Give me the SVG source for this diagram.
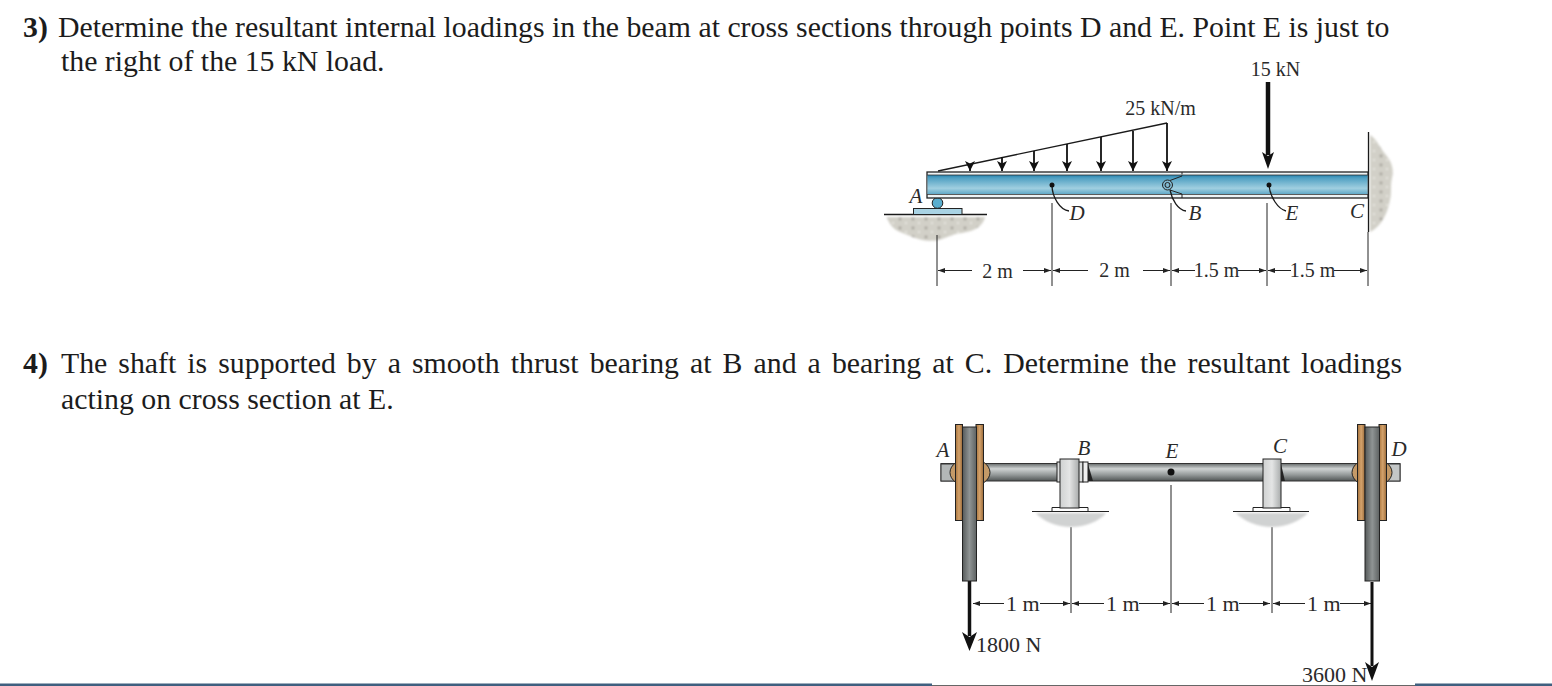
<svg xmlns="http://www.w3.org/2000/svg" width="1552" height="686" viewBox="0 0 1552 686">
<style>
.q{font:29.8px "Liberation Serif",serif;fill:#1c1c1c}
.l{font:20px "Liberation Serif",serif;fill:#2a2a2a}
.m{font:22px "Liberation Serif",serif;fill:#2a2a2a}
.i{font:italic 21px "Liberation Serif",serif;fill:#2a2a2a}
.k{stroke:#1a1a1a;fill:none;stroke-width:1.3}
.t{stroke:#222;fill:none;stroke-width:1}
.d{stroke:#222;fill:none;stroke-width:1;marker-start:url(#t)}
.a{stroke:#111;stroke-width:1.8;fill:none;marker-end:url(#ah)}
.g{filter:url(#soft)}
</style>
<defs>
<marker id="ah" markerUnits="userSpaceOnUse" markerWidth="10" markerHeight="10" refX="10" refY="5" orient="auto"><path d="M0 0L2.500 5 0 10 10 5Z" fill="#111"/></marker>
<marker id="t" markerUnits="userSpaceOnUse" markerWidth="7" markerHeight="5" refX="0" refY="2.500" orient="auto"><path d="M0 2.500L7 0V5Z" fill="#222"/></marker>
<filter id="soft"><feGaussianBlur stdDeviation="1"/></filter>
<pattern id="sp" width="13" height="9" patternUnits="userSpaceOnUse"><rect width="13" height="9" fill="#d2d0c8"/><circle cx="3" cy="3" r="1.400" fill="#a09e96"/><circle cx="9" cy="7" r="1" fill="#f0efe9"/></pattern>
<linearGradient id="web" x1="0" y1="0" x2="0" y2="1"><stop offset="0" stop-color="#2583ae"/><stop offset=".15" stop-color="#4f9fc2"/><stop offset=".7" stop-color="#a0cfe0"/><stop offset="1" stop-color="#62aac8"/></linearGradient>
<linearGradient id="shaft" x1="0" y1="0" x2="0" y2="1"><stop offset="0" stop-color="#666b6b"/><stop offset=".3" stop-color="#cfd3d3"/><stop offset=".65" stop-color="#949999"/><stop offset="1" stop-color="#4f5454"/></linearGradient>
<linearGradient id="belt" x1="0" y1="0" x2="1" y2="0"><stop offset="0" stop-color="#565a5a"/><stop offset=".5" stop-color="#8f9494"/><stop offset="1" stop-color="#5d6161"/></linearGradient>
<linearGradient id="cu" x1="0" y1="0" x2="1" y2="0"><stop offset="0" stop-color="#a8743c"/><stop offset=".5" stop-color="#d3a26c"/><stop offset="1" stop-color="#9a6a38"/></linearGradient>
<linearGradient id="bk" x1="0" y1="0" x2="1" y2="0"><stop offset="0" stop-color="#cfd1d1"/><stop offset=".5" stop-color="#e4e5e5"/><stop offset="1" stop-color="#a9acac"/></linearGradient>
</defs>
<g id="text-3">
<text class="q" y="37"><tspan x="23" font-weight="bold">3)</tspan><tspan x="58">Determine the resultant internal loadings in the beam at cross sections through points D and E. Point E is just to</tspan></text>
<text class="q" x="61" y="71">the right of the 15 kN load.</text>
</g>
<g id="text-4">
<text class="q" y="373"><tspan x="23" font-weight="bold">4)</tspan><tspan x="61" word-spacing="3.600">The shaft is supported by a smooth thrust bearing at B and a bearing at C. Determine the resultant loadings</tspan></text>
<text class="q" x="61" y="409">acting on cross section at E.</text>
</g>
<g id="ground-a"><path class="g" d="M887 217H985C983 226 975 231 962 233C950 234 945 240 932 241C920 241 910 236 900 232C893 229 889 224 887 217Z" fill="url(#sp)"/><path d="M884 214.500H987" class="k"/></g>
<g id="support-a"><rect x="913.500" y="208.500" width="48.500" height="6" fill="#a9d3e4" stroke="#222"/><circle cx="937.500" cy="203" r="5.300" fill="#59aecf" stroke="#222"/></g>
<g id="wall-c"><path class="g" d="M1370 135C1376 138 1380 148 1386 155C1392 162 1394 170 1392 178C1390 186 1392 192 1390 200C1388 212 1382 226 1370 232Z" fill="url(#sp)"/><path d="M1368.500 132V232" class="k"/></g>
<g id="beam">
<rect x="927" y="172" width="441" height="26" fill="#eef4f6" stroke="#222" stroke-width="1.300"/>
<rect x="927.500" y="175" width="440" height="19" fill="url(#web)"/>
<path d="M927 194.500H1368M927 175H1181M1183 175H1368" stroke="#333" stroke-width=".8"/>
<path d="M1182 172V176L1170 180.500M1170 190L1182 194V198" fill="none" stroke="#222"/>
<circle cx="1167.500" cy="185" r="5" fill="#7fb7cf" stroke="#222"/><circle cx="1167.500" cy="185" r="2.500" fill="none" stroke="#222"/>
</g>
<g id="connectors">
<path d="M938 171L1167 123" class="k"/>
<path class="a" d="M970 165V171"/><path class="a" d="M1002 157V171"/><path class="a" d="M1034 151V171"/><path class="a" d="M1067 144V171"/><path class="a" d="M1101 137V171"/><path class="a" d="M1133 131V171"/><path class="a" d="M1167 123V171"/>
<path d="M1268 82V155" stroke="#111" stroke-width="4.500"/><path d="M1262 152L1268 156 1274 152 1268 169Z" fill="#111"/>
<path d="M1052 185C1052 197 1060 210 1069 211M1170 190C1172 200 1178 210 1186 211M1269 185C1270 197 1278 209 1286 211" class="k"/>
<path d="M937 235V286M1052 203V286M1171 203V286M1267 203V286M1368 232V286" class="t"/>
<path class="d" d="M938 270.500H972"/><path class="d" d="M1051 270.500H1023"/><path class="d" d="M1053 270.500H1088"/><path class="d" d="M1170 270.500H1143"/><path class="d" d="M1172 270.500H1195"/><path class="d" d="M1266 270.500H1238"/><path class="d" d="M1268 270.500H1291"/><path class="d" d="M1367 270.500H1334"/>
<path d="M1071 527V613M1171 485V613M1272 527V613" class="t"/>
<path class="d" d="M973 603.500H1004"/><path class="d" d="M1070 603.500H1040"/><path class="d" d="M1072 603.500H1104"/><path class="d" d="M1170 603.500H1139"/><path class="d" d="M1172 603.500H1204"/><path class="d" d="M1270 603.500H1239"/><path class="d" d="M1273 603.500H1305"/><path class="d" d="M1371 603.500H1340"/>
<path d="M969.500 581V636" stroke="#111" stroke-width="3.500"/><path d="M962 632L969.500 637 977 632 969.500 651Z" fill="#111"/>
<path d="M1372 582V666" stroke="#111" stroke-width="3"/><path d="M1365 662L1372 667 1379 662 1372 681Z" fill="#111"/>
</g>
<g id="point-d"><circle cx="1052" cy="185" r="2.500" fill="#111"/></g>
<g id="point-e"><circle cx="1269" cy="185" r="2.500" fill="#111"/></g>
<g id="labels-3">
<text class="l" x="1160.500" y="115" text-anchor="middle">25 kN/m</text>
<text class="l" x="1275.500" y="76" text-anchor="middle">15 kN</text>
<text class="i" x="916" y="203" text-anchor="middle">A</text><text class="i" x="1077" y="220" text-anchor="middle">D</text><text class="i" x="1195" y="220" text-anchor="middle">B</text><text class="i" x="1292" y="220" text-anchor="middle">E</text><text class="i" x="1357" y="218" text-anchor="middle">C</text>
<text class="l" x="997.500" y="278" text-anchor="middle">2 m</text><text class="l" x="1114.500" y="277" text-anchor="middle">2 m</text><text class="l" x="1216.500" y="277" text-anchor="middle">1.5 m</text><text class="l" x="1312.500" y="277" text-anchor="middle">1.5 m</text>
</g>
<g id="shaft-body"><rect x="941" y="463.500" width="459" height="17.500" fill="url(#shaft)" stroke="#333"/><rect x="941" y="464" width="20" height="17" fill="#b3b7b7" stroke="#333"/><rect x="1386" y="464" width="14" height="17" fill="#c3c6c6" stroke="#333"/></g>
<g id="pulley-a"><ellipse cx="970" cy="472.500" rx="20" ry="14" fill="#c49a68" stroke="#222"/><rect x="955.500" y="424.500" width="7" height="96" fill="url(#cu)" stroke="#222"/><rect x="976" y="424.500" width="7.500" height="96" fill="url(#cu)" stroke="#222"/><rect x="962.500" y="427" width="14" height="154" fill="url(#belt)" stroke="#222"/></g>
<g id="pulley-d"><ellipse cx="1372" cy="472.500" rx="20" ry="14" fill="#c49a68" stroke="#222"/><rect x="1357.500" y="424.500" width="7.500" height="96" fill="url(#cu)" stroke="#222"/><rect x="1379" y="424.500" width="7.500" height="96" fill="url(#cu)" stroke="#222"/><rect x="1365" y="427" width="14.500" height="154" fill="url(#belt)" stroke="#222"/></g>
<g id="bearing-b"><path class="g" d="M1036 513H1106C1100 521 1085 527 1071 527C1057 527 1042 521 1036 513Z" fill="#d0d2d2"/><path d="M1032 511.500H1109M1052 511.500V507.500H1088V511.500" stroke="#222" fill="none"/><rect x="1057" y="462" width="26" height="20" fill="#dcdede" stroke="#222"/><rect x="1083" y="462" width="5" height="20" fill="#eee" stroke="#222"/><path d="M1088 464L1093 481H1088Z" fill="#222"/><rect x="1060" y="459" width="19" height="49" fill="url(#bk)" stroke="#222"/></g>
<g id="bearing-c"><path class="g" d="M1236 513H1308C1300 521 1286 527 1272 527C1258 527 1243 521 1236 513Z" fill="#d0d2d2"/><path d="M1233 511.500H1309M1253 511.500V507.500H1290V511.500" stroke="#222" fill="none"/><path d="M1281 464L1285 481H1281Z" fill="#222"/><rect x="1263" y="459" width="18" height="49" fill="url(#bk)" stroke="#222"/></g>
<g id="point-e2"><circle cx="1171" cy="472" r="3.500" fill="#111"/></g>
<g id="labels-4">
<text class="i" x="943" y="457" text-anchor="middle">A</text><text class="i" x="1084" y="455" text-anchor="middle">B</text><text class="i" x="1172" y="458" text-anchor="middle">E</text><text class="i" x="1280" y="453" text-anchor="middle">C</text><text class="i" x="1399" y="456" text-anchor="middle">D</text>
<text class="m" x="1006" y="611">1 m</text><text class="m" x="1106" y="611">1 m</text><text class="m" x="1206" y="611">1 m</text><text class="m" x="1307" y="611">1 m</text>
<text class="m" x="976" y="652">1800 N</text><text class="m" x="1302" y="682">3600 N</text>
</g>
<g id="rule"><rect x="0" y="683.500" width="932" height="2.500" fill="#3f5f7f"/><rect x="932" y="685" width="483" height="1" fill="#666"/><rect x="1415" y="683.500" width="137" height="2.500" fill="#3f5f7f"/></g>
</svg>
